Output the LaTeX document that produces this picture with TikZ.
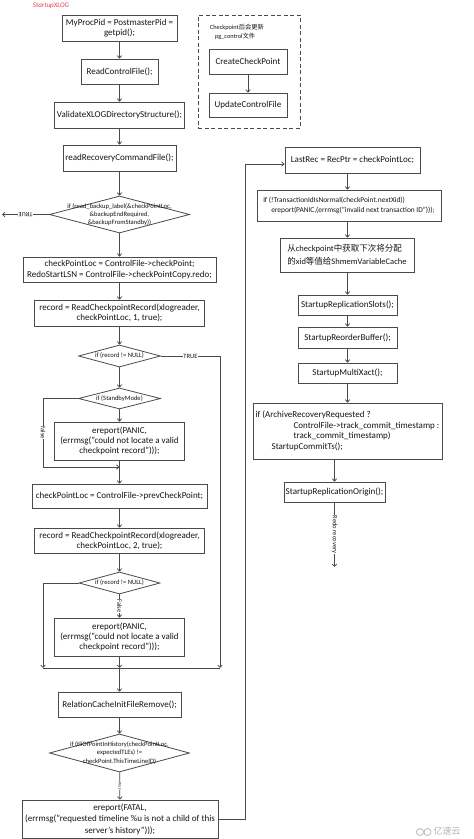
\documentclass[tikz,border=0pt]{standalone}
\usepackage{fontspec}
\setmainfont{Carlito}
\newfontfamily\cjk{Noto Sans CJK SC}
\usetikzlibrary{arrows.meta,shapes.geometric}
\definecolor{lc}{HTML}{4A4A4A}
\definecolor{tx}{HTML}{151515}
\definecolor{ttl}{HTML}{E8404A}
\newcommand\myfs[2]{\fontsize{#1}{#2}\selectfont}
\begin{document}
\begin{tikzpicture}[x=1pt,y=-1pt,
  box/.style={draw=lc, line width=0.8pt, align=center, inner sep=1pt, text=tx, font=\myfs{9}{10.3}},
  dia/.style={draw=lc, line width=0.8pt, diamond, inner sep=0pt},
  dtext/.style={align=center, text=tx, inner sep=0pt, font=\myfs{6.6}{7.8}},
  arr/.style={draw=lc, line width=0.8pt, -{Straight Barb[length=2.4pt,width=4.5pt]}},
  plain/.style={draw=lc, line width=0.8pt},
  lab/.style={fill=white, inner sep=0.6pt, text=tx, font=\myfs{6.5}{7}},
]
\useasboundingbox (0,0) rectangle (474,839);
\fill[white] (0,0) rectangle (474,839);

\node[text=ttl, font=\myfs{7}{8}\itshape] (title) at (51,5.5) {StartupXLOG};

% left column
\node[box, minimum width=115, minimum height=26] (b1) at (119.5,28) {MyProcPid = PostmasterPid =\\getpid();};
\node[box, minimum width=77, minimum height=25] (b2) at (119.5,71.5) {ReadControlFile();};
\node[box, minimum width=130, minimum height=26] (b3) at (119.5,115) {ValidateXLOGDirectoryStructure();};
\node[box, minimum width=113, minimum height=26] (b4) at (119.5,158) {readRecoveryCommandFile();};
\node[dia, minimum width=140, minimum height=37] (d1) at (119.5,214.5) {};
\node[dtext] (d1t) at (d1) {if (read\_backup\_label(\&checkPointLoc,\\\&backupEndRequired,\\\&backupFromStandby))};
\node[box, minimum width=193, minimum height=25] (b5) at (119.5,269.5) {checkPointLoc = ControlFile->checkPoint;\\RedoStartLSN = ControlFile->checkPointCopy.redo;};
\node[box, minimum width=170, minimum height=26] (b6) at (119.5,313) {record = ReadCheckpointRecord(xlogreader,\\checkPointLoc, 1, true);};
\node[dia, minimum width=82, minimum height=22] (d2) at (119.5,356) {};
\node[dtext] (d2t) at (d2) {if (record != NULL)};
\node[dia, minimum width=82, minimum height=21] (d3) at (119.5,398.5) {};
\node[dtext] (d3t) at (d3) {if (StandbyMode)};
\node[box, minimum width=130, minimum height=38] (e1) at (119.5,441) {ereport(PANIC,\\(errmsg("could not locate a valid\\checkpoint record")));};
\node[box, minimum width=175, minimum height=24] (b7) at (119.5,496) {checkPointLoc = ControlFile->prevCheckPoint;};
\node[box, minimum width=170, minimum height=25] (b8) at (119.5,540.5) {record = ReadCheckpointRecord(xlogreader,\\checkPointLoc, 2, true);};
\node[dia, minimum width=81, minimum height=22] (d4) at (119.5,583) {};
\node[dtext] (d4t) at (d4) {if (record != NULL)};
\node[box, minimum width=130, minimum height=38] (e2) at (119.5,637) {ereport(PANIC,\\(errmsg("could not locate a valid\\checkpoint record")));};
\node[box, minimum width=123, minimum height=25] (b9) at (119.5,704.5) {RelationCacheInitFileRemove();};
\node[dia, minimum width=140, minimum height=38] (d5) at (119.5,753) {};
\node[dtext, font=\myfs{6.6}{8.8}] (d5t) at (d5) {if (tliOfPointInHistory(checkPointLoc,\\expectedTLEs) !=\\checkPoint.ThisTimeLineID)};
\node[box, minimum width=196, minimum height=38, font=\myfs{9}{11.5}] (e3) at (120,819) {ereport(FATAL,\\(errmsg("requested timeline \%u is not a child of this\\server's history")));};

% dashed group
\node[draw=lc, line width=0.8pt, dash pattern=on 4pt off 2.5pt, minimum width=102, minimum height=113] (dbox) at (249,71.5) {};
\node[text=tx, align=left, inner sep=0pt, font=\myfs{6.3}{9.5}] (dtitle) at (237,32) {Checkpoint{\cjk 后会更新}\\\hspace*{5pt}pg\_control{\cjk 文件}};
\node[box, minimum width=78, minimum height=25] (cc1) at (248,61.5) {CreateCheckPoint};
\node[box, minimum width=78, minimum height=24] (cc2) at (248,105) {UpdateControlFile};

% right column
\node[box, minimum width=135, minimum height=26] (r1) at (352.5,160) {LastRec = RecPtr = checkPointLoc;};
\node[box, minimum width=184, minimum height=31, align=left, font=\myfs{7.4}{9.8}] (r2) at (349,205.5) {if (!TransactionIdIsNormal(checkPoint.nextXid))\\\hspace*{8pt}ereport(PANIC,(errmsg("invalid next transaction ID")));};
\node[box, minimum width=134, minimum height=34, align=left, font=\myfs{8.5}{12.5}] (r3) at (347,255) {{\cjk 从}checkpoint{\cjk 中获取下次将分配}\\{\cjk 的}xid{\cjk 等值给}ShmemVariableCache};
\node[box, minimum width=99, minimum height=20] (r4) at (347.5,305) {StartupReplicationSlots();};
\node[box, minimum width=99, minimum height=21] (r5) at (347.5,337.5) {StartupReorderBuffer();};
\node[box, minimum width=99, minimum height=20] (r6) at (347.5,373) {StartupMultiXact();};
\node[box, minimum width=189, minimum height=56, align=left, font=\myfs{9}{10.7}] (r7) at (347.5,431) {if (ArchiveRecoveryRequested ?\\\hspace*{38pt}ControlFile->track\_commit\_timestamp :\\\hspace*{38pt}track\_commit\_timestamp)\\\hspace*{16pt}StartupCommitTs();};
\node[box, minimum width=101, minimum height=20] (r8) at (334.5,492) {StartupReplicationOrigin();};

% coordinates
\coordinate (t1end) at (2,214.5);
\coordinate (m2r) at (220,668);
\coordinate (d3l) at (43,398.5);
\coordinate (m1) at (119.5,467);
\coordinate (d4l) at (43,583);
\coordinate (m3l) at (43,668);
\coordinate (m3c) at (119.5,668);
\coordinate (fr) at (245,820);
\coordinate (redoEnd) at (334.5,567);

% connectors left
\draw[arr] (b1) -- (b2);
\draw[arr] (b2) -- (b3);
\draw[arr] (b3) -- (b4);
\draw[arr] (b4) -- (d1);
\draw[arr] (d1.west) -- node[lab, rotate=180] (l1) {TRUE} (t1end);
\draw[arr] (d1) -- (b5);
\draw[arr] (b5) -- (b6);
\draw[arr] (b6) -- (d2);
\draw[arr] (d2.east) -| node[lab, pos=0.25] (l2) {TRUE} (m2r);
\draw[arr] (d2) -- (d3);
\draw[arr] (d3.west) -- (d3l) -- node[lab, rotate=-90] (l3) {false} (d3l |- m1) -- (m1);
\draw[arr] (d3) -- (e1);
\draw[arr] (e1) -- (b7);
\draw[arr] (b7) -- (b8);
\draw[arr] (b8) -- (d4);
\draw[arr] (d4.west) -- (d4l) -- (m3l);
\draw[arr] (d4) -- node[lab, rotate=-90] (l4) {False} (e2);
\draw[plain] (m3l) -- (m2r);
\draw[arr] (e2) -- (m3c);
\draw[arr] (m3c) -- (b9);
\draw[arr] (b9) -- (d5);
\draw[arr] (d5) -- node[lab, rotate=-90, font=\myfs{3.5}{4}] (l5) {TRUE} (e3);
\draw[arr] (e3.east) -- (e3.east -| fr) |- ([yshift=-4pt]r1.west);

% dashed group connector
\draw[arr] (cc1) -- (cc2);

% connectors right
\draw[arr] (r1.south -| r4.north) -- (r2.north -| r4.north);
\draw[arr] (r2.south -| r4.north) -- (r3.north -| r4.north);
\draw[arr] (r3.south -| r4.north) -- (r4.north);
\draw[arr] (r4) -- (r5);
\draw[arr] (r5) -- (r6);
\draw[arr] (r6) -- (r7);
\draw[arr] (r7.south -| r8.north) -- (r8.north);
\draw[arr] (r8.south) -- node[lab, rotate=-90] (l6) {Redo recovery} (redoEnd);

% watermark
\draw[gray!55, line width=0.8pt] (420,832) circle [radius=3.5pt] (427.5,832) circle [radius=3.5pt];
\node[text=gray!60, font=\cjk\myfs{9}{10}] (wm) at (447,831) {亿速云};
\end{tikzpicture}
\end{document}
